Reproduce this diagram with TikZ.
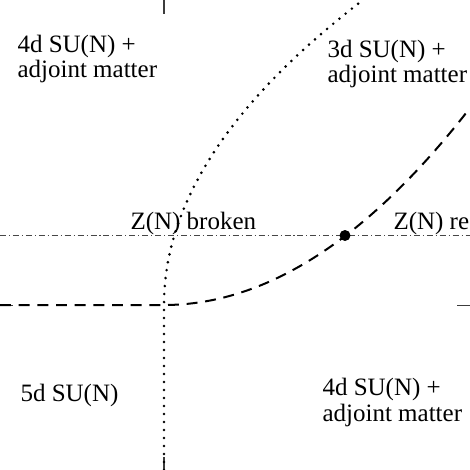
\documentclass[tikz,border=0pt]{standalone}
\usepackage{fontspec}
\setmainfont{Liberation Serif}

\tikzset{every picture/.style={line width=0.75pt}}

\begin{document}
\begin{tikzpicture}[x=0.75pt,y=0.75pt,yscale=-1,xscale=1,
  tick/.style={draw={rgb, 255:red, 60; green, 60; blue, 60 }, line width=1.1pt},
  phase/.style={draw={rgb, 255:red, 70; green, 70; blue, 70 }, line width=0.7pt, dash pattern=on 4.5pt off 2.2pt on 0.8pt off 2.2pt},
  transline/.style={line width=1.5pt, dash pattern=on 8.2pt off 5.8pt},
  decline/.style={line width=2.2pt, line cap=round, dash pattern=on 0pt off 6pt},
  region/.style={inner sep=0pt, anchor=base west, align=left, font=\fontsize{18.75}{19.1}\selectfont}]
\useasboundingbox (0,0) rectangle (470,470);
\clip (0,0) rectangle (470,470);

%Coordinates
\coordinate (meet) at (164,305);
\coordinate (top) at (363,0);
\coordinate (side) at (470,108);

%Straight Lines [ticks]
\draw [tick] (164,0) -- (164,14) ;
\draw [tick] (164,457) -- (164,470) ;
\draw [tick] (0,305.5) -- (13,305.5) ;
\draw [tick] (457,305.5) -- (470,305.5) ;

%Straight Lines [phase boundary]
\draw [phase] (0,235.5) -- (470,235.5) ;

%Curve Lines
\draw [decline] (164,470) -- (meet) .. controls (164,203.3) and (230.3,101.7) .. (top) ;
\draw [transline] (0,305) -- (meet) .. controls (266,305) and (368,239.3) .. (side) ;

% Point
\fill (345,235.5) circle [radius=5.5] node (crit) {};

% Text Node
\node [region] (adjfour) at (17,77.5) {4d SU(N) +\\adjoint matter};
% Text Node
\node [region] (adjthree) at (327,83) {3d SU(N) +\\adjoint matter};
% Text Node
\node [region] (broken) at (130,229) {Z(N) broken};
% Text Node
\node [region] (restored) at (393,229) {Z(N) restored};
% Text Node
\node [region] (pure) at (20,401.5) {5d SU(N)};
% Text Node
\node [region] (adjlow) at (322,421) {4d SU(N) +\\adjoint matter};

\end{tikzpicture}
\end{document}
